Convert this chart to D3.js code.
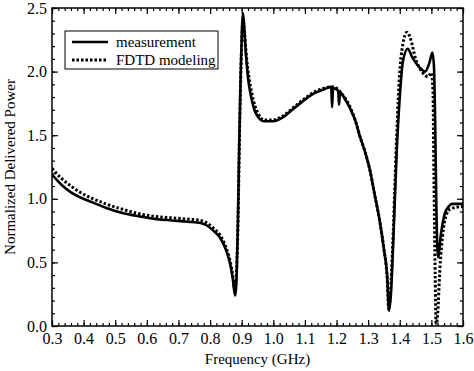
<!DOCTYPE html>
<html>
<head>
<meta charset="utf-8">
<script src="https://cdn.jsdelivr.net/npm/d3@7"></script>
<style>
  body { margin: 0; background: #fff; }
  text { font-family: "Liberation Serif", "Times New Roman", serif; fill: #000; }
</style>
</head>
<body>
<svg id="drawing_region"></svg>
<script>
// frequency (GHz) / normalized power
const measFreq = [0.30, 0.33, 0.36, 0.39, 0.43, 0.47, 0.52, 0.58, 0.63, 0.68, 0.73, 0.77, 0.79, 0.81, 0.83, 0.845, 0.857, 0.865, 0.872, 0.879,
    0.884, 0.888, 0.892, 0.897, 0.901, 0.904, 0.908, 0.913, 0.92, 0.93, 0.94, 0.95, 0.97, 1.00, 1.03, 1.06, 1.09, 1.13, 1.16, 1.183,
    1.186, 1.189, 1.205, 1.208, 1.211, 1.225, 1.243, 1.26, 1.274, 1.29, 1.306, 1.32, 1.337, 1.35, 1.36, 1.366, 1.372, 1.38, 1.39,
    1.40, 1.41, 1.425, 1.44, 1.46, 1.48, 1.495, 1.503, 1.508, 1.512, 1.516, 1.521, 1.53, 1.543, 1.555, 1.565, 1.60];
const measValue = [1.19, 1.11, 1.05, 1.01, 0.97, 0.93, 0.89, 0.86, 0.84, 0.83, 0.82, 0.81, 0.79, 0.75, 0.70, 0.63, 0.55, 0.47, 0.37, 0.24,
    0.40, 0.80, 1.40, 2.00, 2.35, 2.46, 2.35, 2.15, 1.95, 1.80, 1.70, 1.65, 1.61, 1.61, 1.64, 1.70, 1.76, 1.83, 1.86, 1.88,
    1.72, 1.87, 1.85, 1.74, 1.84, 1.79, 1.71, 1.61, 1.49, 1.37, 1.22, 1.04, 0.82, 0.60, 0.40, 0.12, 0.25, 0.70, 1.35,
    1.80, 2.08, 2.18, 2.11, 2.04, 2.00, 2.08, 2.15, 2.05, 1.60, 0.90, 0.54, 0.72, 0.89, 0.94, 0.96, 0.96];

const fdtdFreq = [0.30, 0.33, 0.36, 0.39, 0.43, 0.47, 0.52, 0.58, 0.63, 0.68, 0.73, 0.77, 0.79, 0.81, 0.83, 0.845, 0.857, 0.865, 0.872, 0.879,
    0.884, 0.889, 0.893, 0.898, 0.902, 0.905, 0.909, 0.915, 0.922, 0.932, 0.942, 0.952, 0.97, 1.00, 1.03, 1.06, 1.09, 1.13, 1.16, 1.19,
    1.215, 1.243, 1.26, 1.274, 1.29, 1.306, 1.32, 1.337, 1.35, 1.36, 1.365, 1.37, 1.378, 1.388, 1.398, 1.41, 1.423, 1.435, 1.45, 1.47, 1.489,
    1.50, 1.505, 1.508, 1.512, 1.515, 1.52, 1.527, 1.535, 1.548, 1.56, 1.60];
const fdtdValue = [1.24, 1.16, 1.10, 1.05, 1.00, 0.96, 0.92, 0.88, 0.86, 0.85, 0.84, 0.83, 0.81, 0.77, 0.72, 0.65, 0.57, 0.49, 0.39, 0.27,
    0.45, 0.90, 1.50, 2.05, 2.33, 2.40, 2.30, 2.12, 1.97, 1.83, 1.73, 1.67, 1.62, 1.62, 1.65, 1.71, 1.77, 1.84, 1.87, 1.88,
    1.83, 1.72, 1.61, 1.49, 1.37, 1.22, 1.04, 0.82, 0.60, 0.38, 0.13, 0.25, 0.65, 1.35, 1.92, 2.22, 2.31, 2.25, 2.10, 2.00, 1.96,
    1.99, 1.85, 1.20, 0.40, 0.00, 0.10, 0.45, 0.70, 0.88, 0.92, 0.94];

const xTicks = [0.3, 0.4, 0.5, 0.6, 0.7, 0.8, 0.9, 1.0, 1.1, 1.2, 1.3, 1.4, 1.5, 1.6];
const yTicks = [0.0, 0.5, 1.0, 1.5, 2.0, 2.5];
const legendLabels = ["measurement", "FDTD modeling"];

class LineChart {
    constructor(config) {
        this.config = config;
        this.init();
    }

    init() {
        let self = this;
        const c = self.config;
        self.svg = d3.select(c.parent)
            .attr('width', c.width)
            .attr('height', c.height);

        self.xscale = d3.scaleLinear().domain([0.3, 1.6]).range([c.left, c.right]);
        self.yscale = d3.scaleLinear().domain([0, 2.5]).range([c.bottom, c.top]);

        self.line = d3.line()
            .x(d => self.xscale(d[0]))
            .y(d => self.yscale(d[1]))
            .curve(d3.curveMonotoneX);
    }

    render() {
        let self = this;
        const c = self.config;
        const x = self.xscale, y = self.yscale;

        const xMinor = d3.range(0, 66).map(i => 0.3 + i * 0.02).filter(v => v <= 1.6001);
        const yMinor = d3.range(0, 26).map(i => i * 0.1);

        const drawAxis = (gen, tx, ty) => {
            const g = self.svg.append('g')
                .attr('transform', `translate(${tx},${ty})`)
                .call(gen);
            g.select('.domain').remove();
            g.selectAll('line').attr('stroke', '#000').attr('stroke-width', 1.2);
            g.selectAll('text').style('font-size', '16px');
            return g;
        };

        // minor ticks on all four sides
        drawAxis(d3.axisBottom(x).tickValues(xMinor).tickSize(-3).tickFormat(''), 0, c.bottom);
        drawAxis(d3.axisTop(x).tickValues(xMinor).tickSize(-3).tickFormat(''), 0, c.top);
        drawAxis(d3.axisLeft(y).tickValues(yMinor).tickSize(-3).tickFormat(''), c.left, 0);
        drawAxis(d3.axisRight(y).tickValues(yMinor).tickSize(-3).tickFormat(''), c.right, 0);

        // major ticks
        drawAxis(d3.axisBottom(x).tickValues(xTicks).tickSize(-6).tickPadding(7).tickFormat(d3.format('.1f')), 0, c.bottom);
        drawAxis(d3.axisTop(x).tickValues(xTicks).tickSize(-6).tickFormat(''), 0, c.top);
        drawAxis(d3.axisLeft(y).tickValues(yTicks).tickSize(-6).tickPadding(5).tickFormat(d3.format('.1f')), c.left, 0);
        drawAxis(d3.axisRight(y).tickValues(yTicks).tickSize(-6).tickFormat(''), c.right, 0);

        // frame
        self.svg.append('rect')
            .attr('x', c.left).attr('y', c.top)
            .attr('width', c.right - c.left).attr('height', c.bottom - c.top)
            .attr('fill', 'none').attr('stroke', '#000').attr('stroke-width', 1.5);

        self.svg.append('clipPath').attr('id', 'clip')
            .append('rect')
            .attr('x', c.left).attr('y', c.top)
            .attr('width', c.right - c.left).attr('height', c.bottom - c.top);

        const plot = self.svg.append('g').attr('clip-path', 'url(#clip)');

        const meas = d3.zip(measFreq, measValue);
        const fdtd = d3.zip(fdtdFreq, fdtdValue);

        plot.append('path')
            .datum(fdtd)
            .attr('d', self.line)
            .attr('fill', 'none')
            .attr('stroke', '#000')
            .attr('stroke-width', 3)
            .attr('stroke-dasharray', '2.5,2');

        plot.append('path')
            .datum(meas)
            .attr('d', self.line)
            .attr('fill', 'none')
            .attr('stroke', '#000')
            .attr('stroke-width', 2.6);

        // legend
        const lg = self.svg.append('g');
        lg.append('rect')
            .attr('x', 65).attr('y', 31).attr('width', 153).attr('height', 38)
            .attr('fill', '#fff').attr('stroke', '#000').attr('stroke-width', 1);
        lg.append('line').attr('x1', 72).attr('x2', 108).attr('y1', 42).attr('y2', 42)
            .attr('stroke', '#000').attr('stroke-width', 2.6);
        lg.append('line').attr('x1', 72).attr('x2', 108).attr('y1', 60).attr('y2', 60)
            .attr('stroke', '#000').attr('stroke-width', 3).attr('stroke-dasharray', '2.5,2');
        lg.selectAll('text.lab')
            .data(legendLabels)
            .enter()
            .append('text')
            .attr('class', 'lab')
            .attr('x', 116)
            .attr('y', (d, i) => 47 + i * 18)
            .style('font-size', '15px')
            .text(d => d);

        // axis titles
        self.svg.append('text')
            .attr('x', (c.left + c.right) / 2)
            .attr('y', 364)
            .attr('text-anchor', 'middle')
            .style('font-size', '15px')
            .text('Frequency (GHz)');

        self.svg.append('text')
            .attr('transform', `translate(15, ${(c.top + c.bottom) / 2}) rotate(-90)`)
            .attr('text-anchor', 'middle')
            .style('font-size', '15px')
            .text('Normalized Delivered Power');
    }
}

const chart = new LineChart({
    parent: '#drawing_region',
    width: 474,
    height: 371,
    left: 52,
    right: 463,
    top: 8,
    bottom: 326
});
chart.render();
</script>
</body>
</html>
